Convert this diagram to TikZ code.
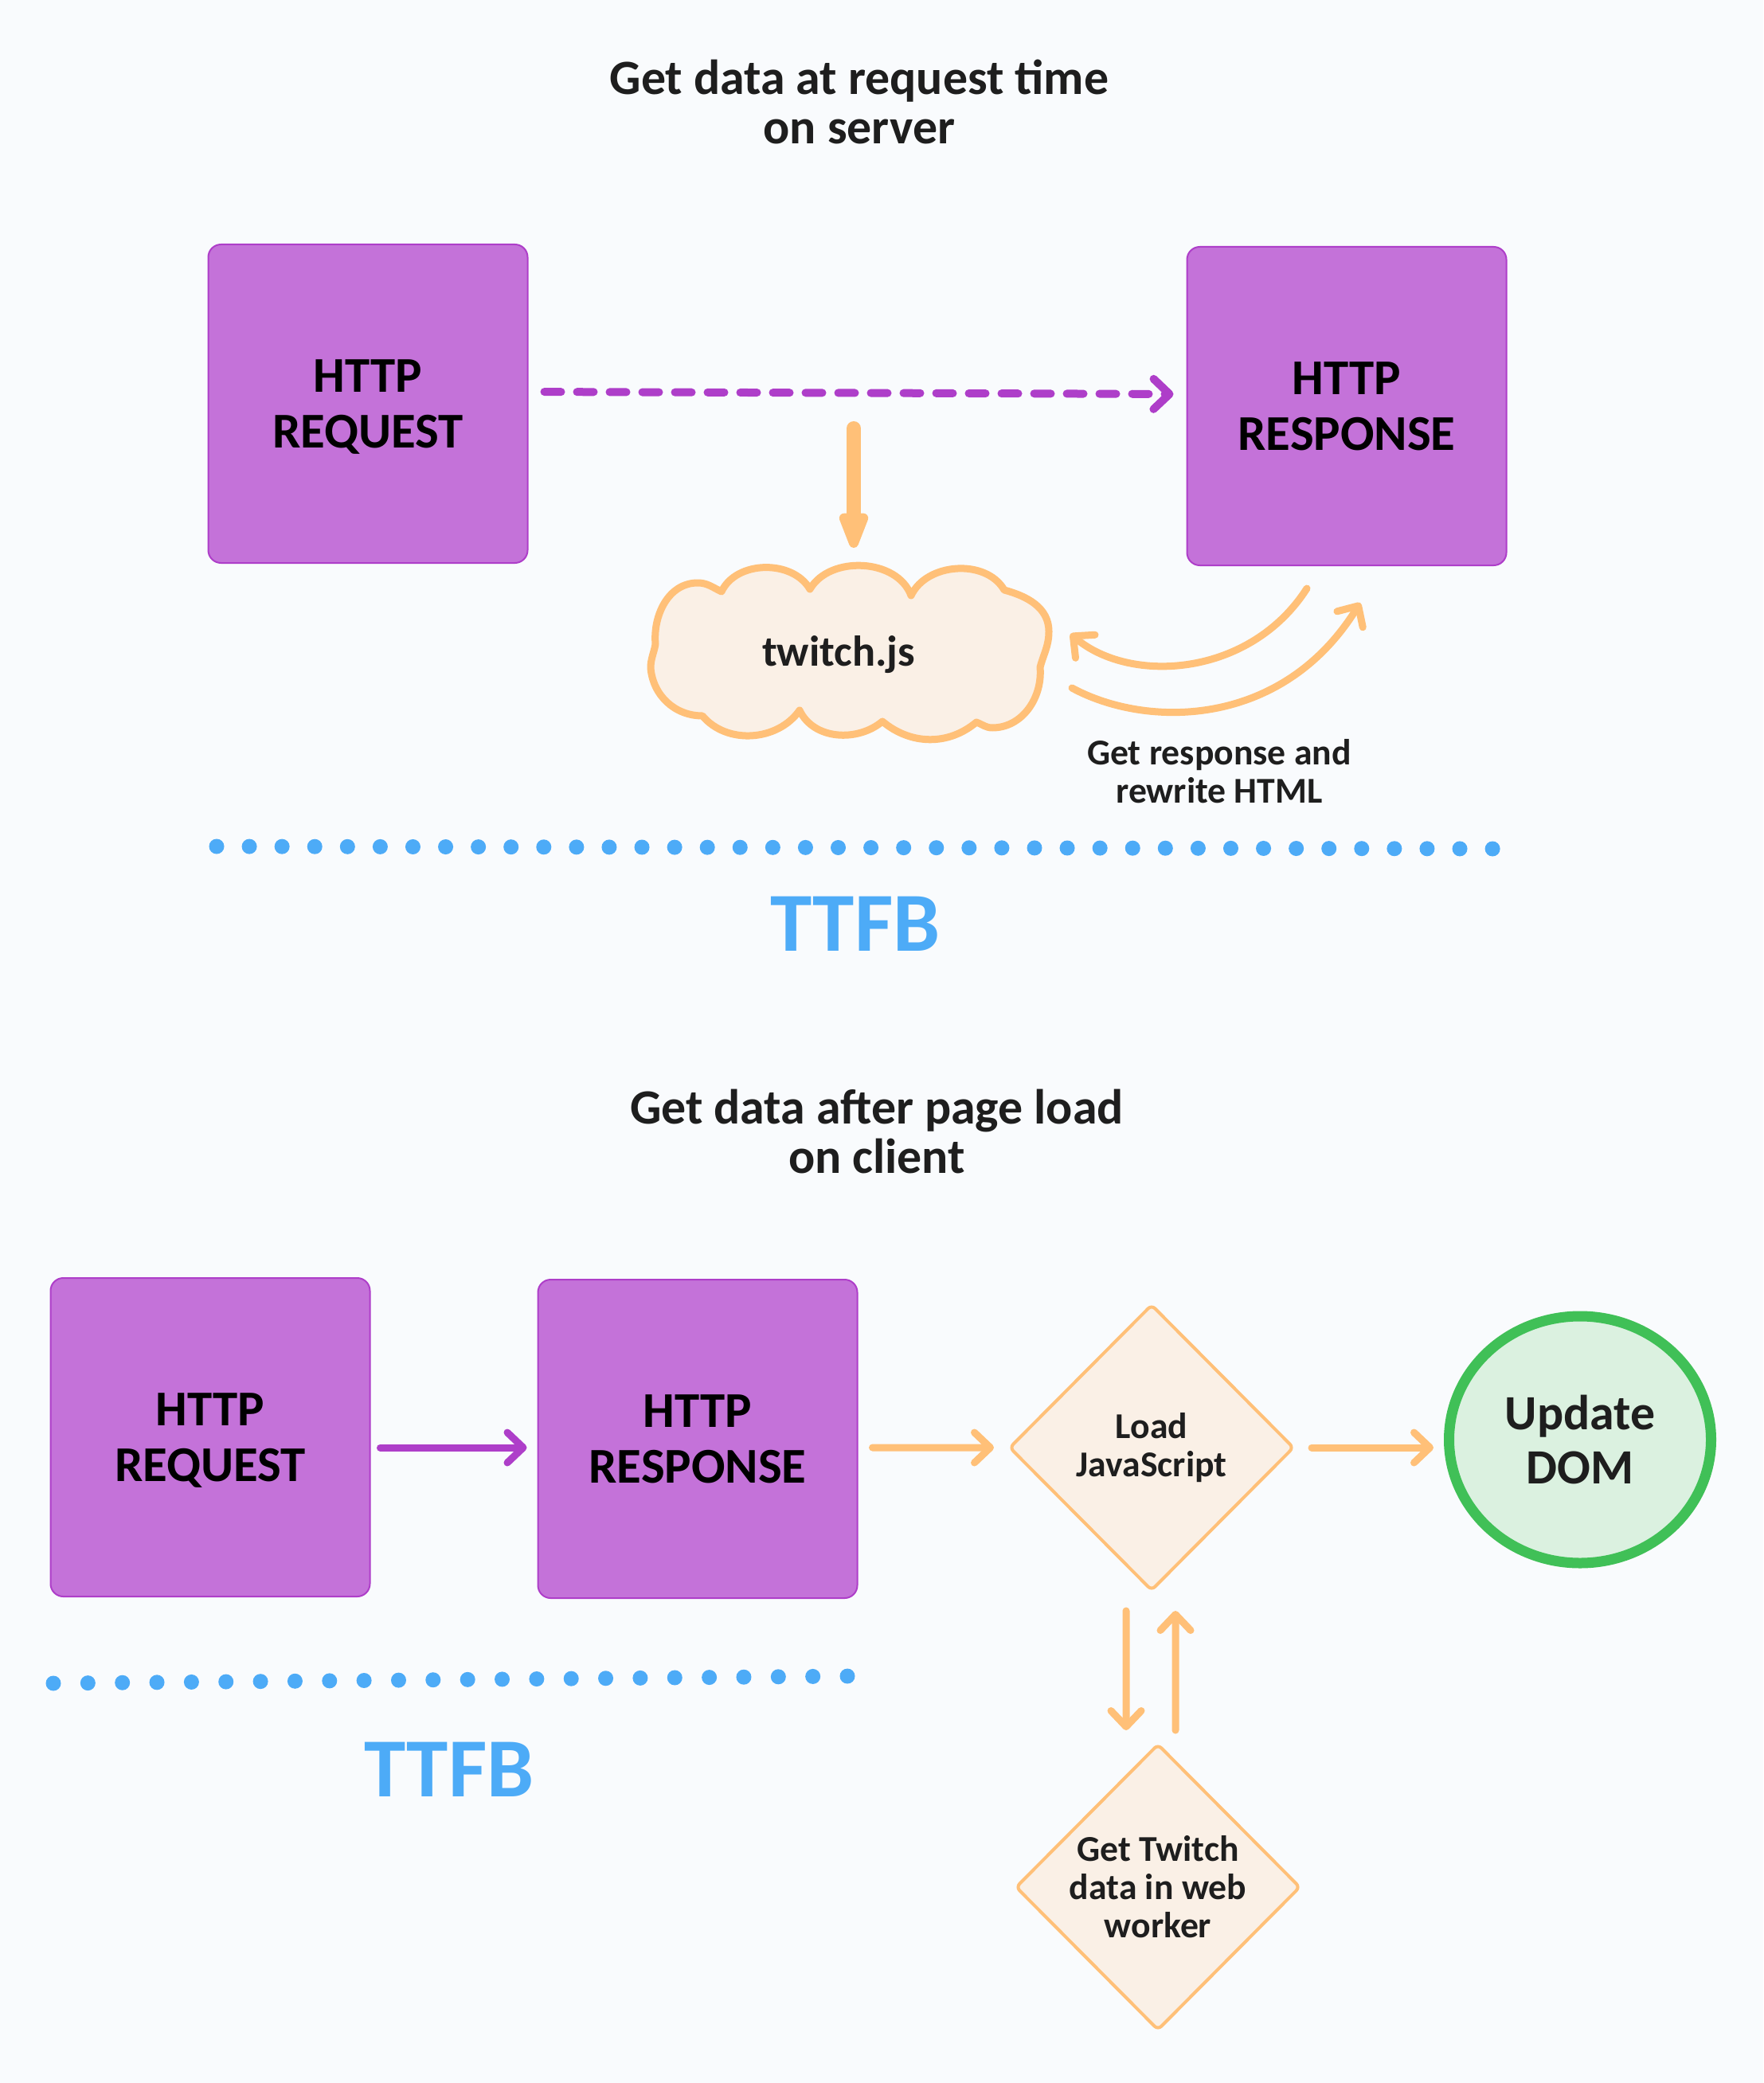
\documentclass[tikz,border=0pt]{standalone}
\usepackage{fontspec}
\setmainfont{Carlito}
\usetikzlibrary{arrows.meta,shapes.geometric}
\definecolor{pagebg}{HTML}{F9FBFD}
\definecolor{boxfill}{HTML}{C472D9}
\definecolor{boxline}{HTML}{AE3EC9}
\definecolor{peach}{HTML}{FFC078}
\definecolor{peachfill}{HTML}{FAF0E6}
\definecolor{ttfbblue}{HTML}{4DABF7}
\definecolor{domgreen}{HTML}{40C057}
\definecolor{domfill}{HTML}{DBF1E0}
\definecolor{inktext}{HTML}{1E1E1E}
\newcommand{\nodepth}[1]{\raisebox{0pt}[\height][0pt]{#1}}
\tikzset{
  >={Straight Barb[round,length=.2cm,width=.38cm]},
  titletext/.style={align=center,text=inktext,font=\fontsize{17.6}{17.9}\selectfont\bfseries},
  smalltext/.style={align=center,text=inktext,font=\fontsize{13}{13.65}\selectfont\bfseries},
  ttfbtext/.style={text=ttfbblue,font=\fontsize{30}{36}\selectfont\bfseries},
  httpbox/.style={draw=boxline,fill=boxfill,line width=.02cm,rounded corners=.16cm,outer sep=0pt,
    minimum width=4.01cm,minimum height=4cm,align=center,font=\fontsize{17.9}{19.9}\selectfont\bfseries},
  decision/.style={diamond,shape aspect=1,draw=peach,fill=peachfill,line width=.04cm,rounded corners=.06cm,
    inner sep=-.06cm,outer sep=0pt,minimum width=3.56cm,minimum height=3.58cm,smalltext},
  flow/.style={->,draw=peach,line width=.09cm,line cap=round},
  dotline/.style={draw=ttfbblue,line width=.19cm,line cap=round,dash pattern=on 0pt off #1}
}
\begin{document}
\begin{tikzpicture}
  \useasboundingbox (0,0) rectangle (22.14,-26.16);
  \fill[pagebg] (0,0) rectangle (22.14,-26.16);

  % top half
  \node[titletext] (toptitle) at (10.79,-1.28) {Get data at request time\\on server};
  \node[httpbox] (reqtop) at (4.62,-5.07) {HTTP\\\nodepth{REQUEST}};
  \node[httpbox] (resptop) at (16.91,-5.10) {HTTP\\RESPONSE};
  \draw[->,draw=boxline,line width=.10cm,line cap=round,dash pattern=on .21cm off .2cm,shorten <=.21cm,shorten >=.17cm]
    ([yshift=.15cm]reqtop.east)--([yshift=.15cm]resptop.west);

  \filldraw[draw=peach,fill=peachfill,line width=.09cm,line join=round]
    (9.06,-7.43) to[out=65,in=120] (10.17,-7.40)
    to[out=60,in=110] (11.44,-7.48)
    to[out=65,in=120] (12.61,-7.41)
    to[out=-15,in=90] (13.17,-7.93)
    to[out=-90,in=75] (13.06,-8.38)
    to[out=-85,in=0] (12.46,-9.14)
    to[out=180,in=-20] (12.26,-9.07)
    to[out=-140,in=-40] (11.08,-9.06)
    to[out=-140,in=-65] (10.04,-8.92)
    to[out=-125,in=-50] (8.82,-8.99)
    to[out=180,in=-85] (8.17,-8.39)
    to[out=90,in=-100] (8.23,-8.09)
    to[out=95,in=180] (8.76,-7.32)
    to[out=0,in=155] cycle;
  \node[titletext,font=\fontsize{15.4}{17.9}\selectfont\bfseries] (twitch) at (10.53,-8.22) {twitch.js};

  \coordinate (downstart) at (10.72,-5.38);
  \coordinate (downend) at (10.72,-6.88);
  \draw[draw=peach,line width=.18cm,line cap=round,-{Triangle[round,length=.56cm,width=.38cm,line width=.12cm]}]
    (downstart)--(downend);

  \coordinate (backstart) at (16.41,-7.39);
  \coordinate (backend) at (13.44,-7.96);
  \coordinate (forthstart) at (13.46,-8.64);
  \coordinate (forthend) at (17.08,-7.57);
  \draw[flow] (backstart) .. controls (15.70,-8.50) and (14.20,-8.60) .. (backend);
  \draw[flow] (forthstart) .. controls (14.40,-9.15) and (16.10,-9.15) .. (forthend);
  \node[smalltext] (rewrite) at (15.31,-9.69) {Get response and\\rewrite HTML};

  \draw[dotline=.4108cm] (2.72,-10.63)--(18.78,-10.66);
  \node[ttfbtext] (ttfbtop) at (10.74,-11.60) {TTFB};

  % bottom half
  \node[titletext] (bottitle) at (11.01,-14.21) {Get data after page load\\on client};
  \node[httpbox] (reqbot) at (2.64,-18.05) {HTTP\\\nodepth{REQUEST}};
  \node[httpbox] (respbot) at (8.76,-18.07) {HTTP\\RESPONSE};
  \node[decision] (loadjs) at (14.46,-18.18) {Load\\JavaScript};
  \node[decision] (worker) at (14.54,-23.70) {Get Twitch\\data in web\\worker};
  \node[ellipse,draw=domgreen,fill=domfill,line width=.13cm,minimum width=3.29cm,minimum height=3.10cm,
    inner sep=0pt,align=center,text=inktext,font=\fontsize{17.6}{19.6}\selectfont\bfseries] (update) at (19.84,-18.08) {Update\\DOM};

  \draw[->,draw=boxline,line width=.09cm,line cap=round,shorten <=.13cm,shorten >=.14cm]
    ([yshift=-.13cm]reqbot.east)--([yshift=-.11cm]respbot.west);
  \draw[flow,shorten <=.19cm,shorten >=.20cm] ([yshift=-.11cm]respbot.east)--(loadjs.west);
  \draw[flow,shorten <=.23cm,shorten >=.13cm] (loadjs.east)--(loadjs.east -| update.west);
  \draw[flow,shorten <=.26cm,shorten >=.18cm] ([xshift=-.32cm]loadjs.south)--([xshift=-.40cm]worker.north);
  \draw[flow,shorten <=.18cm,shorten >=.26cm] ([xshift=.22cm]worker.north)--([xshift=.30cm]loadjs.south);

  \draw[dotline=.4335cm] (.67,-21.14)--(10.66,-21.05);
  \node[ttfbtext] (ttfbbot) at (5.64,-22.22) {TTFB};
\end{tikzpicture}
\end{document}
